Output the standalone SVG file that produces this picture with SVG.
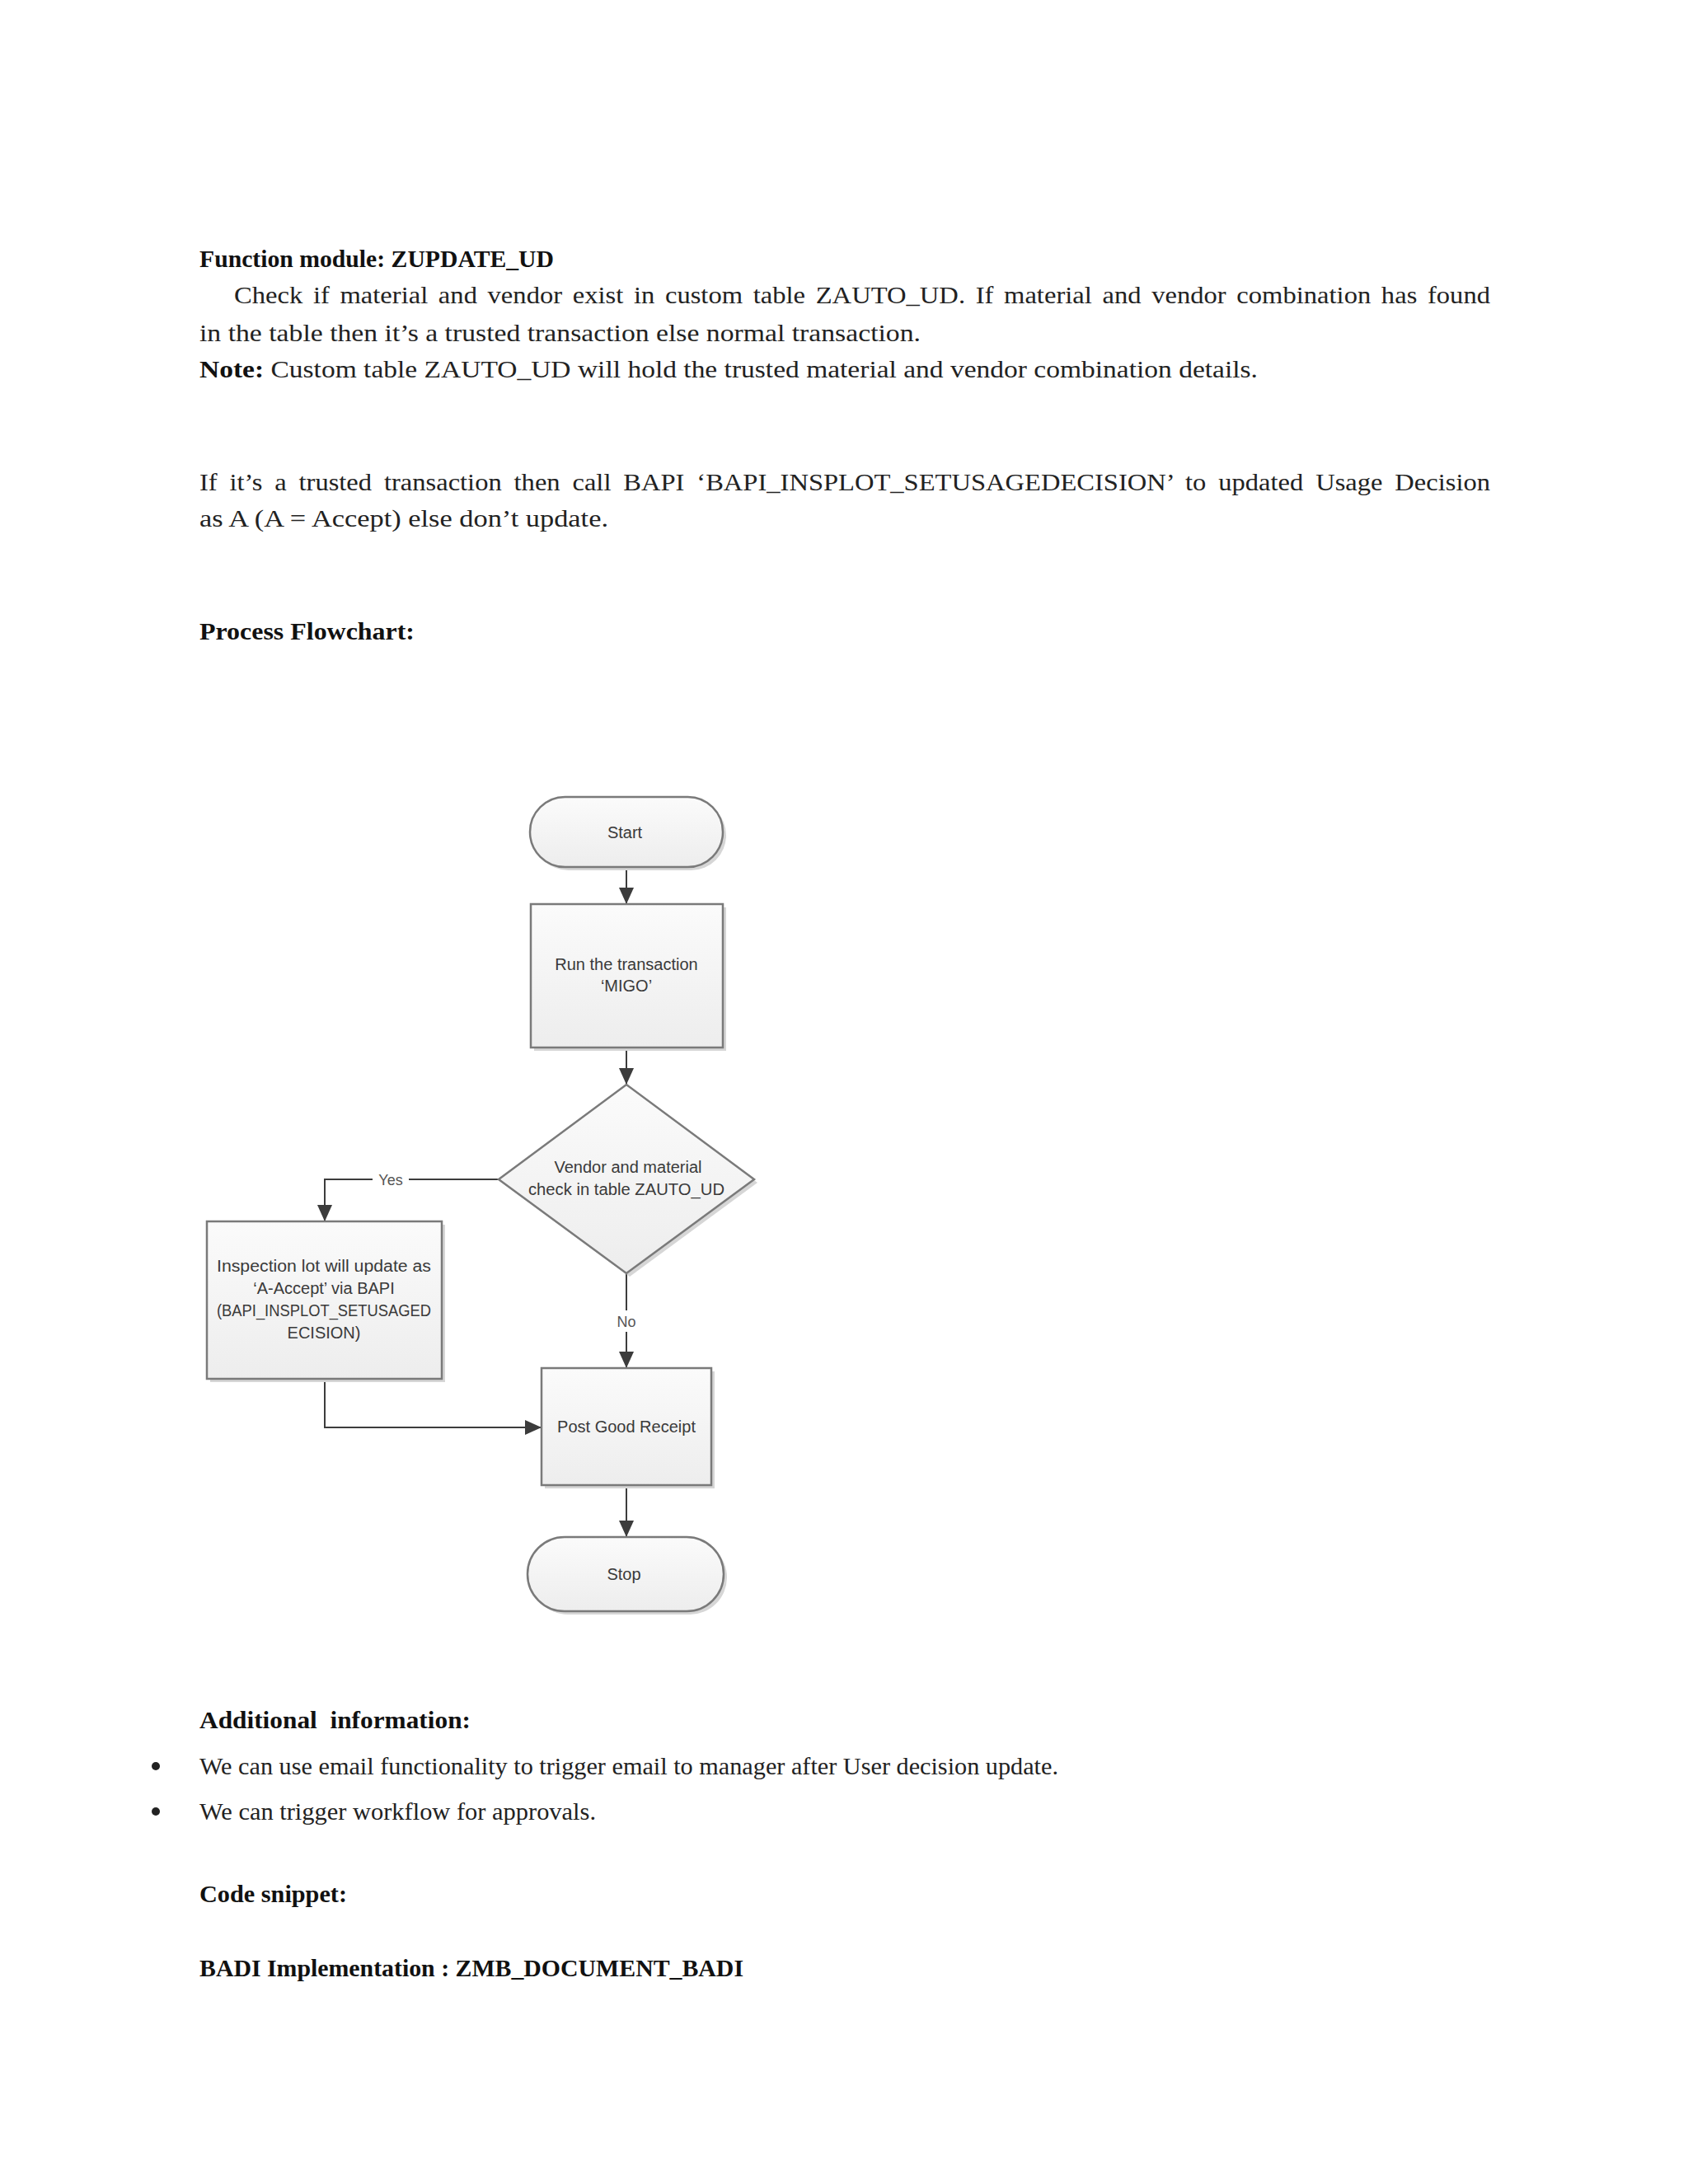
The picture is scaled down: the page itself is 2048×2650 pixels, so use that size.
<svg xmlns="http://www.w3.org/2000/svg" width="2048" height="2650" viewBox="0 0 2048 2650">
<style>
.body{font-family:"Liberation Serif","Times New Roman",serif;font-size:29px;fill:#222}
.bold{font-family:"Liberation Serif","Times New Roman",serif;font-size:29px;font-weight:bold;fill:#111}
.shape{fill:url(#g);stroke:#7a7a7a;stroke-width:2.5}
.shadow{fill:#d6d6d6;stroke:none}
.lbl{font-family:"Liberation Sans",Arial,sans-serif;font-size:20px;fill:#3a3a3a;text-anchor:middle}
.small{font-family:"Liberation Sans",Arial,sans-serif;font-size:18px;fill:#555;text-anchor:middle}
.conn{fill:none;stroke:#3c3c3c;stroke-width:2}
</style>
<defs>
<linearGradient id="g" x1="0" y1="0" x2="0" y2="1">
<stop offset="0" stop-color="#fbfbfb"/>
<stop offset="1" stop-color="#ededed"/>
</linearGradient>
<marker id="arr" markerUnits="userSpaceOnUse" markerWidth="20" markerHeight="20" viewBox="0 0 20 20" refX="20" refY="10" orient="auto">
<path d="M0,1 L20,10 L0,19 Z" fill="#3c3c3c"/>
</marker>
</defs>
<rect width="2048" height="2650" fill="#fff"/>

<g id="text">
<text class="bold" x="242" y="324" textLength="430" lengthAdjust="spacingAndGlyphs">Function module: ZUPDATE_UD</text>
<text class="body" x="284" y="368" textLength="1524" lengthAdjust="spacingAndGlyphs" word-spacing="4">Check if material and vendor exist in custom table ZAUTO_UD. If material and vendor combination has found</text>
<text class="body" x="242" y="414" textLength="875" lengthAdjust="spacingAndGlyphs">in the table then it’s a trusted transaction else normal transaction.</text>
<text class="body" x="242" y="458" textLength="1284" lengthAdjust="spacingAndGlyphs"><tspan font-weight="bold" fill="#111">Note:</tspan> Custom table ZAUTO_UD will hold the trusted material and vendor combination details.</text>
<text class="body" x="242" y="595" textLength="1566" lengthAdjust="spacingAndGlyphs" word-spacing="6">If it’s a trusted transaction then call BAPI ‘BAPI_INSPLOT_SETUSAGEDECISION’ to updated Usage Decision</text>
<text class="body" x="242" y="639" textLength="496" lengthAdjust="spacingAndGlyphs">as A (A = Accept) else don’t update.</text>
<text class="bold" x="242" y="776" textLength="261" lengthAdjust="spacingAndGlyphs" fill="#333">Process Flowchart:</text>
<text class="bold" x="242" y="2097" textLength="329" lengthAdjust="spacingAndGlyphs" xml:space="preserve">Additional  information:</text>
<circle cx="189" cy="2143" r="5" fill="#222"/>
<text class="body" x="242" y="2153" textLength="1042" lengthAdjust="spacingAndGlyphs">We can use email functionality to trigger email to manager after User decision update.</text>
<circle cx="189" cy="2198" r="5" fill="#222"/>
<text class="body" x="242" y="2208" textLength="481" lengthAdjust="spacingAndGlyphs">We can trigger workflow for approvals.</text>
<text class="bold" x="242" y="2308" textLength="179" lengthAdjust="spacingAndGlyphs">Code snippet:</text>
<text class="bold" x="242" y="2398" textLength="660" lengthAdjust="spacingAndGlyphs">BADI Implementation : ZMB_DOCUMENT_BADI</text>
</g>

<g id="connectors">
<path class="conn" d="M760,1052 V1097" marker-end="url(#arr)"/>
<path class="conn" d="M760,1271 V1316" marker-end="url(#arr)"/>
<path class="conn" d="M605,1431 H394 V1482" marker-end="url(#arr)"/>
<rect x="452" y="1420" width="44" height="22" fill="#fff"/>
<text class="small" x="474" y="1438">Yes</text>
<path class="conn" d="M760,1545 V1660" marker-end="url(#arr)"/>
<rect x="744" y="1590" width="32" height="26" fill="#fff"/>
<text class="small" x="760" y="1610">No</text>
<path class="conn" d="M394,1673 V1732 H657" marker-end="url(#arr)"/>
<path class="conn" d="M760,1802 V1865" marker-end="url(#arr)"/>
</g>

<g id="start">
<rect class="shadow" x="647" y="971" width="234" height="85" rx="42.5"/>
<rect class="shape" x="643" y="967" width="234" height="85" rx="42.5"/>
<text class="lbl" x="758" y="1017">Start</text>
</g>

<g id="run">
<rect class="shadow" x="648" y="1101" width="233" height="174"/>
<rect class="shape" x="644" y="1097" width="233" height="174"/>
<text class="lbl" x="760" y="1177">Run the transaction</text>
<text class="lbl" x="760" y="1203">‘MIGO’</text>
</g>

<g id="decision">
<polygon class="shadow" points="764,1320 919,1435 764,1549 609,1435"/>
<polygon class="shape" points="760,1316 915,1431 760,1545 605,1431"/>
<text class="lbl" x="762" y="1423">Vendor and material</text>
<text class="lbl" x="760" y="1450" textLength="238" lengthAdjust="spacingAndGlyphs">check in table ZAUTO_UD</text>
</g>

<g id="inspection">
<rect class="shadow" x="255" y="1486" width="285" height="191"/>
<rect class="shape" x="251" y="1482" width="285" height="191"/>
<text class="lbl" x="393" y="1543" textLength="260" lengthAdjust="spacingAndGlyphs">Inspection lot will update as</text>
<text class="lbl" x="393" y="1570">‘A-Accept’ via BAPI</text>
<text class="lbl" x="393" y="1597" textLength="260" lengthAdjust="spacingAndGlyphs">(BAPI_INSPLOT_SETUSAGED</text>
<text class="lbl" x="393" y="1624">ECISION)</text>
</g>

<g id="post">
<rect class="shadow" x="661" y="1664" width="206" height="142"/>
<rect class="shape" x="657" y="1660" width="206" height="142"/>
<text class="lbl" x="760" y="1738">Post Good Receipt</text>
</g>

<g id="stop">
<rect class="shadow" x="644" y="1869" width="238" height="90" rx="45"/>
<rect class="shape" x="640" y="1865" width="238" height="90" rx="45"/>
<text class="lbl" x="757" y="1917">Stop</text>
</g>
</svg>
